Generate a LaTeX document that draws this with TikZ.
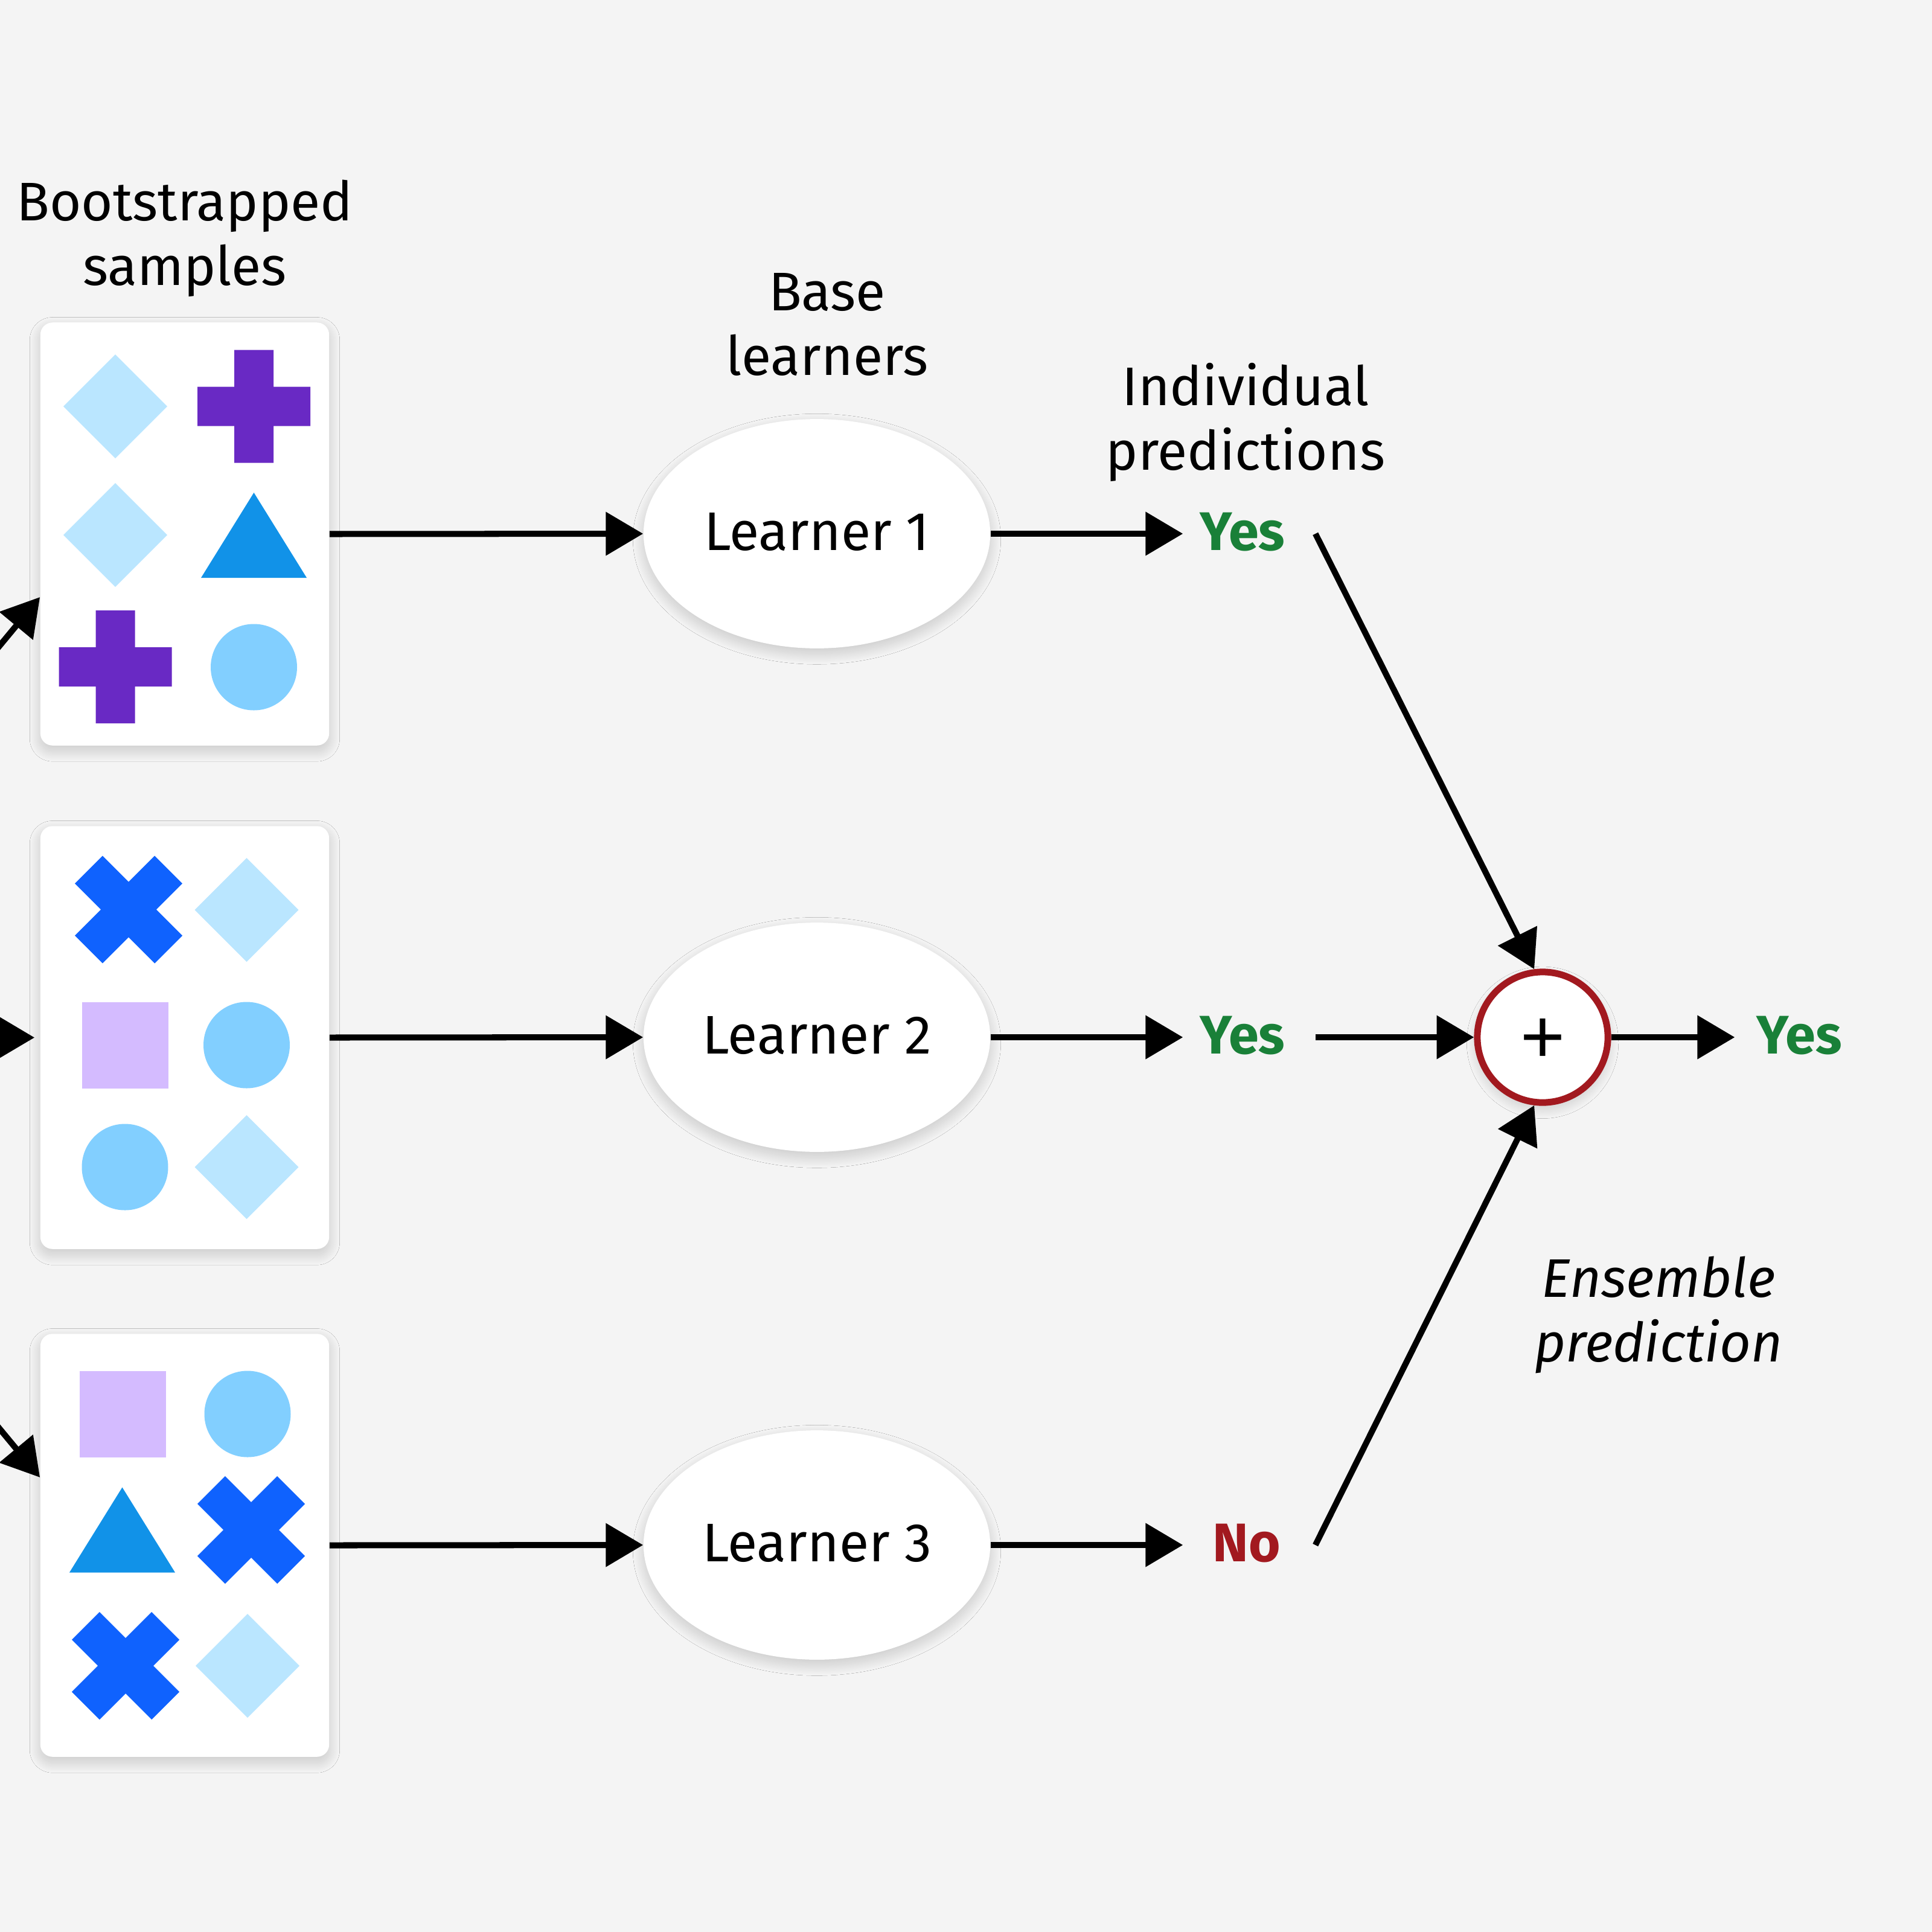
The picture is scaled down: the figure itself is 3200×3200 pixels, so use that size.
\documentclass[tikz,border=0pt]{standalone}
\usepackage{fontspec}
\setmainfont{Fira Sans}
\newfontfamily\plusfont{Liberation Sans}
\usetikzlibrary{arrows.meta,shapes.geometric,calc,shadows.blur}
\definecolor{bgc}{HTML}{F4F4F4}
\definecolor{cdiam}{HTML}{BAE6FF}
\definecolor{cplus}{HTML}{6929C4}
\definecolor{ctri}{HTML}{1192E8}
\definecolor{ccirc}{HTML}{82CFFF}
\definecolor{ccross}{HTML}{0F62FE}
\definecolor{csq}{HTML}{D4BBFF}
\definecolor{cgreen}{HTML}{198038}
\definecolor{cred}{HTML}{A2191F}
\tikzset{
  lbl/.style={inner sep=0pt, align=center, anchor=base, font=\fontsize{25.6pt}{30.4pt}\selectfont},
  softshadow/.style={blur shadow={shadow xshift=0pt, shadow yshift=-2.5pt, shadow blur radius=5pt, shadow blur steps=30, shadow opacity=18}},
  samplebox/.style={fill=white, rounded corners=5.7pt, minimum width=136pt, minimum height=199.2pt, inner sep=0pt, softshadow},
  learner/.style={ellipse, fill=white, minimum width=163.3pt, minimum height=108pt, inner sep=0pt, text height=17.6pt, text depth=1.7pt, font=\fontsize{25.6pt}{30.4pt}\selectfont, softshadow},
  combiner/.style={circle, draw=cred, line width=3.13pt, fill=white, minimum size=61.5pt, inner sep=0pt, font=\plusfont\fontsize{36pt}{36pt}\selectfont, softshadow},
  pred/.style={inner sep=0pt, minimum width=62pt, text height=17.6pt, text depth=1.7pt, font=\fontsize{25.6pt}{30.4pt}\selectfont\bfseries},
  arr/.style={line width=2.85pt, -{Triangle[length=17.6pt, width=20pt]}},
  pdiam/.pic={\fill[cdiam] (-86,0)--(0,-86)--(86,0)--(0,86)--cycle;},
  pplus/.pic={\fill[cplus] (-32.5,-93.5)--(32.5,-93.5)--(32.5,-32.5)--(93.5,-32.5)--(93.5,32.5)--(32.5,32.5)--(32.5,93.5)--(-32.5,93.5)--(-32.5,32.5)--(-93.5,32.5)--(-93.5,-32.5)--(-32.5,-32.5)--cycle;},
  pcross/.pic={\fill[ccross, rotate=45] (-32.5,-93.5)--(32.5,-93.5)--(32.5,-32.5)--(93.5,-32.5)--(93.5,32.5)--(32.5,32.5)--(32.5,93.5)--(-32.5,93.5)--(-32.5,32.5)--(-93.5,32.5)--(-93.5,-32.5)--(-32.5,-32.5)--cycle;},
  ptri/.pic={\fill[ctri] (0,-70.5)--(87.5,70.5)--(-87.5,70.5)--cycle;},
  pcirc/.pic={\fill[ccirc] (0,0) circle[radius=71.5];},
  psq/.pic={\fill[csq] (-71.5,-71.5) rectangle (71.5,71.5);}
}
\begin{document}
\begin{tikzpicture}[x=0.01cm, y=-0.01cm]
\useasboundingbox (0,0) rectangle (3200,3200);
\fill[bgc] (0,0) rectangle (3200,3200);
\clip (0,0) rectangle (3200,3200);

% headings (anchor = baseline of the last line)
\node[lbl] (tboot) at (306,472) {Bootstrapped\\samples};
\node[lbl] (tbase) at (1370,621) {Base\\learners};
\node[lbl] (tind) at (2063,778) {Individual\\predictions};
\node[lbl, font=\fontsize{25.6pt}{30.4pt}\selectfont\itshape] (tens) at (2747,2255) {Ensemble\\prediction};

% sample boxes
\node[samplebox] (b1) at (306,884.5) {};
\node[samplebox] (b2) at (306,1718.5) {};
\node[samplebox] (b3) at (306,2559.5) {};

% box 1 shapes
\pic at (191,673) {pdiam};
\pic at (420.5,673) {pplus};
\pic at (191,886) {pdiam};
\pic at (420.5,886.5) {ptri};
\pic at (191,1104.5) {pplus};
\pic at (420.5,1105) {pcirc};
% box 2 shapes
\pic at (213,1506.5) {pcross};
\pic at (408.5,1507) {pdiam};
\pic at (207,1731) {psq};
\pic at (408.5,1731) {pcirc};
\pic at (207,1933) {pcirc};
\pic at (408.5,1933) {pdiam};
% box 3 shapes
\pic at (203,2342) {psq};
\pic at (410,2342) {pcirc};
\pic at (202.5,2534) {ptri};
\pic at (416,2534) {pcross};
\pic at (208,2759) {pcross};
\pic at (410,2759) {pdiam};

% learners
\node[learner] (l1) at (1353,884) {Learner 1};
\node[learner] (l2) at (1353,1718) {Learner 2};
\node[learner] (l3) at (1353,2559) {Learner 3};

% predictions
\node[pred, text=cgreen] (y1) at (2069,884) {Yes\kern6.3pt};
\node[pred, text=cgreen] (y2) at (2069,1718) {Yes\kern6.3pt};
\node[pred, text=cred] (y3) at (2069,2559) {No\kern2.3pt};

% combiner
\node[combiner] (plus) at (2555,1718) {\raisebox{-3.4pt}{+}\vphantom{+}};
\node[pred, text=cgreen, minimum width=60.3pt] (fy) at (2980,1718) {Yes};

% incoming arrows from outside
\coordinate (src) at (-538,1718);
\draw[arr] (src) -- ($(b1.west)+(0,104.5)$);
\draw[arr] (src) -- ($(b2.west)+(-9,0)$);
\draw[arr] (src) -- ($(b3.west)+(0,-112.5)$);

% connectors
\draw[arr] (b1.east) -- (l1.west);
\draw[arr] (b2.east) -- (l2.west);
\draw[arr] (b3.east) -- (l3.west);
\draw[arr] (l1.east) -- (y1.west);
\draw[arr] (l2.east) -- (y2.west);
\draw[arr] (l3.east) -- (y3.west);
\draw[arr] (y1.east) -- (plus.97);
\draw[arr] (y2.east) -- (plus.west);
\draw[arr] (y3.east) -- (plus.263);
\draw[arr] (plus.east) -- (fy.west);
\end{tikzpicture}
\end{document}
